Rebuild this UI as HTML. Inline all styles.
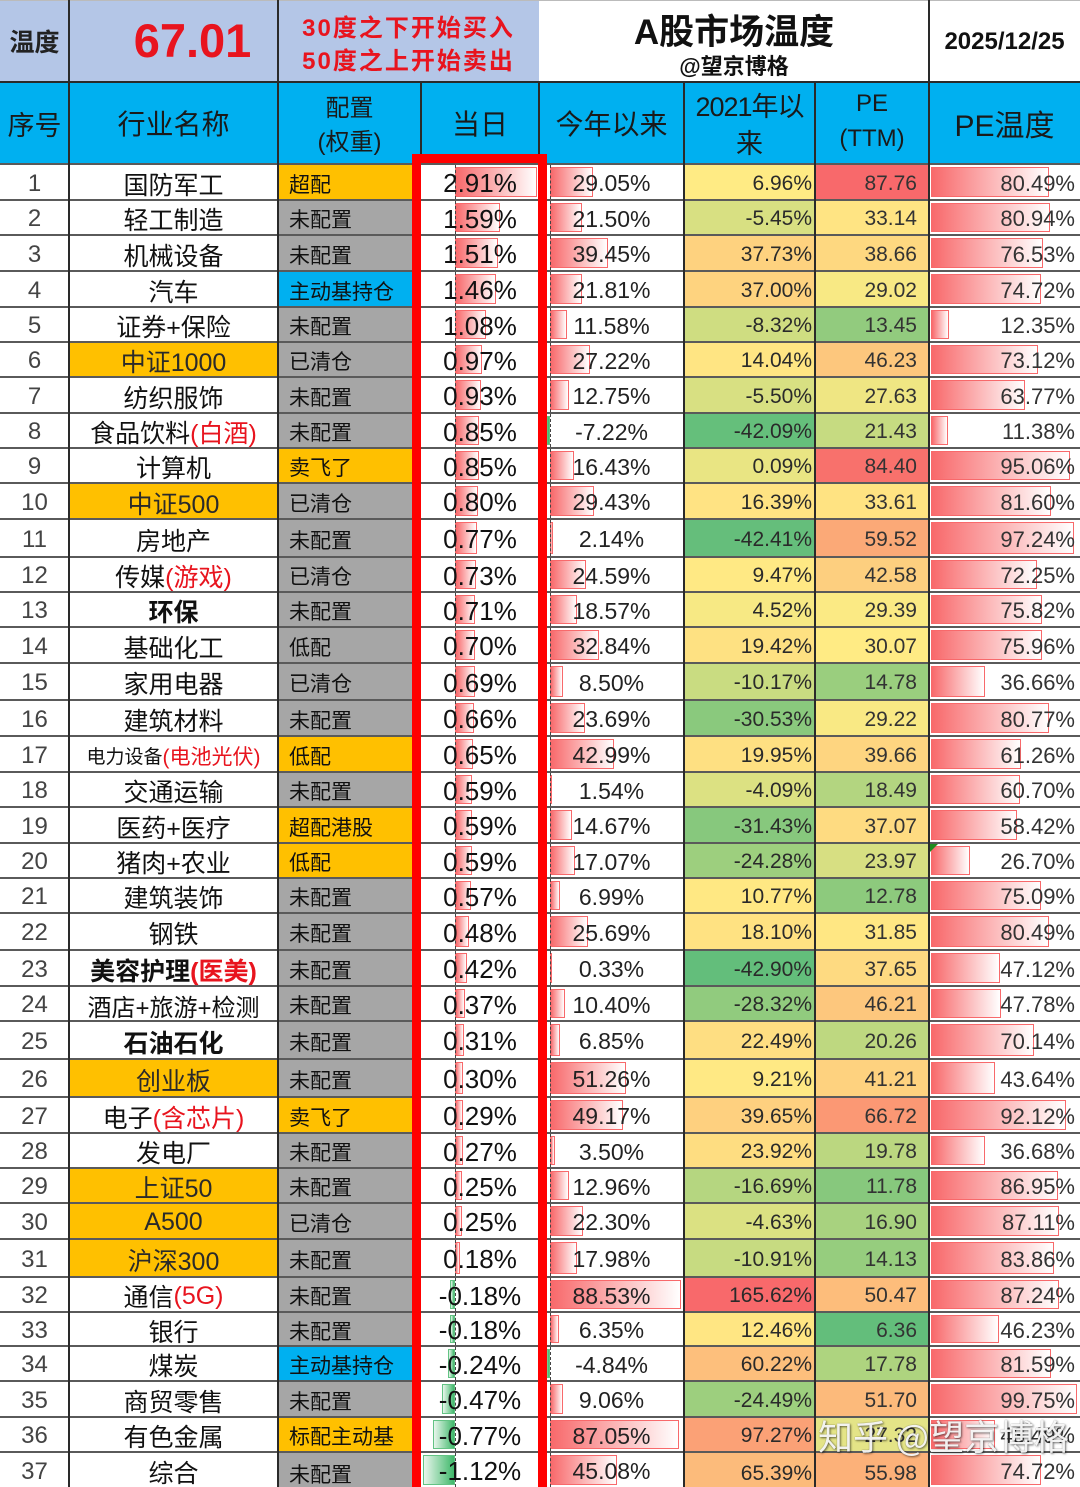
<!DOCTYPE html>
<html><head><meta charset="utf-8"><style>
*{margin:0;padding:0;box-sizing:border-box}
html,body{width:1080px;height:1487px;overflow:hidden;background:#fff}
body{font-family:"Liberation Sans","Noto Sans CJK SC",sans-serif;color:#1a1a1a}
#w{position:relative;width:1080px;height:1487px;overflow:hidden;background:#fff}
.a{position:absolute}
.h{position:absolute;display:flex;align-items:center;justify-content:center;white-space:nowrap}
.r{position:absolute;left:0;width:1080px;border-top:2px solid #5a5a5a}
.c{position:absolute;top:0;bottom:0;display:flex;align-items:center;white-space:nowrap;padding-top:3px}
.c0{left:0;width:69px;justify-content:center;font-size:24px;color:#444}
.c1{left:69px;width:209px;justify-content:center;font-size:25px;color:#111}
.c2{left:278px;width:143px;padding-left:11px;font-size:21px;color:#111;background:#A6A6A6}
.c3{left:421px;width:118px;justify-content:center;font-size:26px;color:#111;overflow:hidden}
.c4{left:539px;width:145px;justify-content:center;font-size:23px;color:#222;overflow:hidden}
.c5{left:684px;width:131px;justify-content:flex-end;padding-right:3px;font-size:21px;color:#2a2a2a}
.c6{left:815px;width:114px;justify-content:flex-end;padding-right:12px;font-size:21px;color:#333}
.c7{left:929px;width:151px;justify-content:flex-end;padding-right:5px;font-size:22px;color:#333}
.og{background:#FFC000}
.bl{background:#00B0F0}
.c1.og{color:#2a2a2a}
.c span{position:relative;z-index:2}
.c3:before,.c4:before{content:"";position:absolute;top:0;bottom:0;border-left:1px dashed #444;z-index:1}
.c3:before{left:34px}
.c4:before{left:11px}
.p,.n{position:absolute;top:2px;bottom:2px}
.p{background:linear-gradient(90deg,#F8696B,#fff);border:1px solid #F8696B}
.n{background:linear-gradient(270deg,#3fb86a,#e8f6ec);border:1px solid #63C384}
.c3 .p{left:34px}.c3 .n{right:84px}
.c4 .p{left:11px}.c4 .n{right:134px}
.c7 .p{left:2px}
.rd{color:#E8141E}
.b{font-weight:bold}
.vl{position:absolute;width:2px;background:#2a2a2a;z-index:3}
</style></head><body><div id="w">

<!-- header row 1 -->
<div class="a" style="left:0;top:0;width:539px;height:81px;background:#B4C6E7"></div>
<div class="h" style="left:0;top:0;width:69px;height:81px;font-size:25px;font-weight:bold;color:#222">温度</div>
<div class="h" style="left:130px;top:0;width:125px;height:81px;font-size:47px;font-weight:bold;color:#E8141E">67.01</div>
<div class="h" style="left:278px;top:8px;width:261px;height:34px;font-size:24px;font-weight:bold;color:#E8141E;letter-spacing:2px">30度之下开始买入</div>
<div class="h" style="left:278px;top:41px;width:261px;height:34px;font-size:24px;font-weight:bold;color:#E8141E;letter-spacing:2px">50度之上开始卖出</div>
<div class="h" style="left:539px;top:7px;width:390px;height:44px;font-size:35px;font-weight:bold;color:#111">A股市场温度</div>
<div class="h" style="left:539px;top:50px;width:390px;height:30px;font-size:22px;font-weight:bold;color:#111">@望京博格</div>
<div class="h" style="left:929px;top:0;width:151px;height:84px;font-size:24px;font-weight:bold;color:#111">2025/12/25</div>

<!-- header row 2 -->
<div class="a" style="left:0;top:81px;width:1080px;height:82px;background:#00B0F0;border-top:2px solid #2a2a2a"></div>
<div class="h" style="left:0;top:83px;width:69px;height:80px;font-size:27px">序号</div>
<div class="h" style="left:69px;top:83px;width:209px;height:80px;font-size:28px">行业名称</div>
<div class="h" style="left:278px;top:88px;width:143px;height:34px;font-size:24px">配置</div>
<div class="h" style="left:278px;top:122px;width:143px;height:34px;font-size:24px">(权重)</div>
<div class="h" style="left:421px;top:83px;width:118px;height:80px;font-size:28px">当日</div>
<div class="h" style="left:539px;top:83px;width:145px;height:80px;font-size:28px">今年以来</div>
<div class="h" style="left:684px;top:85px;width:131px;height:38px;font-size:27px;letter-spacing:-1px">2021年以</div>
<div class="h" style="left:684px;top:122px;width:131px;height:38px;font-size:27px">来</div>
<div class="h" style="left:815px;top:87px;width:114px;height:34px;font-size:24px">PE</div>
<div class="h" style="left:815px;top:122px;width:114px;height:34px;font-size:24px">(TTM)</div>
<div class="h" style="left:929px;top:83px;width:151px;height:80px;font-size:30px">PE温度</div>

<!-- data rows -->
<div class="r" style="top:163px;height:36px"><div class="c c0">1</div><div class="c c1">国防军工</div><div class="c c2 og">超配</div><div class="c c3"><i class="p" style="width:82px"></i><span>2.91%</span></div><div class="c c4"><i class="p" style="width:43px"></i><span>29.05%</span></div><div class="c c5" style="background:#FFEB84">6.96%</div><div class="c c6" style="background:#F8696B">87.76</div><div class="c c7"><i class="p" style="width:118px"></i><span>80.49%</span></div></div>
<div class="r" style="top:199px;height:35px"><div class="c c0">2</div><div class="c c1">轻工制造</div><div class="c c2">未配置</div><div class="c c3"><i class="p" style="width:45px"></i><span>1.59%</span></div><div class="c c4"><i class="p" style="width:32px"></i><span>21.50%</span></div><div class="c c5" style="background:#D8E082">-5.45%</div><div class="c c6" style="background:#FFE483">33.14</div><div class="c c7"><i class="p" style="width:119px"></i><span>80.94%</span></div></div>
<div class="r" style="top:234px;height:36px"><div class="c c0">3</div><div class="c c1">机械设备</div><div class="c c2">未配置</div><div class="c c3"><i class="p" style="width:43px"></i><span>1.51%</span></div><div class="c c4"><i class="p" style="width:58px"></i><span>39.45%</span></div><div class="c c5" style="background:#FED27F">37.73%</div><div class="c c6" style="background:#FED880">38.66</div><div class="c c7"><i class="p" style="width:112px"></i><span>76.53%</span></div></div>
<div class="r" style="top:270px;height:36px"><div class="c c0">4</div><div class="c c1">汽车</div><div class="c c2 bl">主动基持仓</div><div class="c c3"><i class="p" style="width:41px"></i><span>1.46%</span></div><div class="c c4"><i class="p" style="width:32px"></i><span>21.81%</span></div><div class="c c5" style="background:#FED37F">37.00%</div><div class="c c6" style="background:#F8E984">29.02</div><div class="c c7"><i class="p" style="width:110px"></i><span>74.72%</span></div></div>
<div class="r" style="top:306px;height:35px"><div class="c c0">5</div><div class="c c1">证券+保险</div><div class="c c2">未配置</div><div class="c c3"><i class="p" style="width:31px"></i><span>1.08%</span></div><div class="c c4"><i class="p" style="width:17px"></i><span>11.58%</span></div><div class="c c5" style="background:#CFDD81">-8.32%</div><div class="c c6" style="background:#92CB7E">13.45</div><div class="c c7"><i class="p" style="width:18px"></i><span>12.35%</span></div></div>
<div class="r" style="top:341px;height:35px"><div class="c c0">6</div><div class="c c1 og">中证1000</div><div class="c c2">已清仓</div><div class="c c3"><i class="p" style="width:27px"></i><span>0.97%</span></div><div class="c c4"><i class="p" style="width:40px"></i><span>27.22%</span></div><div class="c c5" style="background:#FFE583">14.04%</div><div class="c c6" style="background:#FDC77D">46.23</div><div class="c c7"><i class="p" style="width:107px"></i><span>73.12%</span></div></div>
<div class="r" style="top:376px;height:36px"><div class="c c0">7</div><div class="c c1">纺织服饰</div><div class="c c2">未配置</div><div class="c c3"><i class="p" style="width:26px"></i><span>0.93%</span></div><div class="c c4"><i class="p" style="width:19px"></i><span>12.75%</span></div><div class="c c5" style="background:#D8E082">-5.50%</div><div class="c c6" style="background:#EFE683">27.63</div><div class="c c7"><i class="p" style="width:94px"></i><span>63.77%</span></div></div>
<div class="r" style="top:412px;height:35px"><div class="c c0">8</div><div class="c c1">食品饮料<span class="rd">(白酒)</span></div><div class="c c2">未配置</div><div class="c c3"><i class="p" style="width:24px"></i><span>0.85%</span></div><div class="c c4"><i class="n" style="width:11px"></i><span>-7.22%</span></div><div class="c c5" style="background:#65BF7B">-42.09%</div><div class="c c6" style="background:#C6DB81">21.43</div><div class="c c7"><i class="p" style="width:17px"></i><span>11.38%</span></div></div>
<div class="r" style="top:447px;height:35px"><div class="c c0">9</div><div class="c c1">计算机</div><div class="c c2 og">卖飞了</div><div class="c c3"><i class="p" style="width:24px"></i><span>0.85%</span></div><div class="c c4"><i class="p" style="width:24px"></i><span>16.43%</span></div><div class="c c5" style="background:#E9E583">0.09%</div><div class="c c6" style="background:#F8716C">84.40</div><div class="c c7"><i class="p" style="width:139px"></i><span>95.06%</span></div></div>
<div class="r" style="top:482px;height:36px"><div class="c c0">10</div><div class="c c1 og">中证500</div><div class="c c2">已清仓</div><div class="c c3"><i class="p" style="width:23px"></i><span>0.80%</span></div><div class="c c4"><i class="p" style="width:44px"></i><span>29.43%</span></div><div class="c c5" style="background:#FFE383">16.39%</div><div class="c c6" style="background:#FFE382">33.61</div><div class="c c7"><i class="p" style="width:120px"></i><span>81.60%</span></div></div>
<div class="r" style="top:518px;height:38px"><div class="c c0">11</div><div class="c c1">房地产</div><div class="c c2">未配置</div><div class="c c3"><i class="p" style="width:22px"></i><span>0.77%</span></div><div class="c c4"><i class="p" style="width:3px"></i><span>2.14%</span></div><div class="c c5" style="background:#65BE7B">-42.41%</div><div class="c c6" style="background:#FBA977">59.52</div><div class="c c7"><i class="p" style="width:143px"></i><span>97.24%</span></div></div>
<div class="r" style="top:556px;height:35px"><div class="c c0">12</div><div class="c c1">传媒<span class="rd">(游戏)</span></div><div class="c c2">已清仓</div><div class="c c3"><i class="p" style="width:21px"></i><span>0.73%</span></div><div class="c c4"><i class="p" style="width:36px"></i><span>24.59%</span></div><div class="c c5" style="background:#FFE984">9.47%</div><div class="c c6" style="background:#FDCF7F">42.58</div><div class="c c7"><i class="p" style="width:106px"></i><span>72.25%</span></div></div>
<div class="r" style="top:591px;height:35px"><div class="c c0">13</div><div class="c c1 b">环保</div><div class="c c2">未配置</div><div class="c c3"><i class="p" style="width:20px"></i><span>0.71%</span></div><div class="c c4"><i class="p" style="width:27px"></i><span>18.57%</span></div><div class="c c5" style="background:#F7E984">4.52%</div><div class="c c6" style="background:#FBEA84">29.39</div><div class="c c7"><i class="p" style="width:111px"></i><span>75.82%</span></div></div>
<div class="r" style="top:626px;height:36px"><div class="c c0">14</div><div class="c c1">基础化工</div><div class="c c2">低配</div><div class="c c3"><i class="p" style="width:20px"></i><span>0.70%</span></div><div class="c c4"><i class="p" style="width:49px"></i><span>32.84%</span></div><div class="c c5" style="background:#FEE182">19.42%</div><div class="c c6" style="background:#FFEB84">30.07</div><div class="c c7"><i class="p" style="width:111px"></i><span>75.96%</span></div></div>
<div class="r" style="top:662px;height:37px"><div class="c c0">15</div><div class="c c1">家用电器</div><div class="c c2">已清仓</div><div class="c c3"><i class="p" style="width:20px"></i><span>0.69%</span></div><div class="c c4"><i class="p" style="width:13px"></i><span>8.50%</span></div><div class="c c5" style="background:#C9DC81">-10.17%</div><div class="c c6" style="background:#9ACE7E">14.78</div><div class="c c7"><i class="p" style="width:54px"></i><span>36.66%</span></div></div>
<div class="r" style="top:699px;height:36px"><div class="c c0">16</div><div class="c c1">建筑材料</div><div class="c c2">未配置</div><div class="c c3"><i class="p" style="width:19px"></i><span>0.66%</span></div><div class="c c4"><i class="p" style="width:35px"></i><span>23.69%</span></div><div class="c c5" style="background:#8AC97D">-30.53%</div><div class="c c6" style="background:#F9E984">29.22</div><div class="c c7"><i class="p" style="width:118px"></i><span>80.77%</span></div></div>
<div class="r" style="top:735px;height:36px"><div class="c c0">17</div><div class="c c1"><span style="font-size:19px">电力设备</span><span class="rd" style="font-size:21px">(电池光伏)</span></div><div class="c c2 og">低配</div><div class="c c3"><i class="p" style="width:18px"></i><span>0.65%</span></div><div class="c c4"><i class="p" style="width:64px"></i><span>42.99%</span></div><div class="c c5" style="background:#FEE082">19.95%</div><div class="c c6" style="background:#FED580">39.66</div><div class="c c7"><i class="p" style="width:90px"></i><span>61.26%</span></div></div>
<div class="r" style="top:771px;height:35px"><div class="c c0">18</div><div class="c c1">交通运输</div><div class="c c2">未配置</div><div class="c c3"><i class="p" style="width:17px"></i><span>0.59%</span></div><div class="c c4"><i class="p" style="width:2px"></i><span>1.54%</span></div><div class="c c5" style="background:#DCE182">-4.09%</div><div class="c c6" style="background:#B3D580">18.49</div><div class="c c7"><i class="p" style="width:89px"></i><span>60.70%</span></div></div>
<div class="r" style="top:806px;height:36px"><div class="c c0">19</div><div class="c c1">医药+医疗</div><div class="c c2 og">超配港股</div><div class="c c3"><i class="p" style="width:17px"></i><span>0.59%</span></div><div class="c c4"><i class="p" style="width:22px"></i><span>14.67%</span></div><div class="c c5" style="background:#87C87D">-31.43%</div><div class="c c6" style="background:#FEDB81">37.07</div><div class="c c7"><i class="p" style="width:86px"></i><span>58.42%</span></div></div>
<div class="r" style="top:842px;height:35px"><div class="c c0">20</div><div class="c c1">猪肉+农业</div><div class="c c2 og">低配</div><div class="c c3"><i class="p" style="width:17px"></i><span>0.59%</span></div><div class="c c4"><i class="p" style="width:25px"></i><span>17.07%</span></div><div class="c c5" style="background:#9DCF7E">-24.28%</div><div class="c c6" style="background:#D7DF82">23.97</div><div class="c c7"><i class="p" style="width:39px"></i><span>26.70%</span><i style="position:absolute;left:1px;top:0;width:0;height:0;border-top:8px solid #1E8C1E;border-right:8px solid transparent;z-index:3"></i></div></div>
<div class="r" style="top:877px;height:35px"><div class="c c0">21</div><div class="c c1">建筑装饰</div><div class="c c2">未配置</div><div class="c c3"><i class="p" style="width:16px"></i><span>0.57%</span></div><div class="c c4"><i class="p" style="width:10px"></i><span>6.99%</span></div><div class="c c5" style="background:#FFE883">10.77%</div><div class="c c6" style="background:#8DCA7D">12.78</div><div class="c c7"><i class="p" style="width:110px"></i><span>75.09%</span></div></div>
<div class="r" style="top:912px;height:37px"><div class="c c0">22</div><div class="c c1">钢铁</div><div class="c c2">未配置</div><div class="c c3"><i class="p" style="width:14px"></i><span>0.48%</span></div><div class="c c4"><i class="p" style="width:38px"></i><span>25.69%</span></div><div class="c c5" style="background:#FFE282">18.10%</div><div class="c c6" style="background:#FFE783">31.85</div><div class="c c7"><i class="p" style="width:118px"></i><span>80.49%</span></div></div>
<div class="r" style="top:949px;height:36px"><div class="c c0">23</div><div class="c c1 b">美容护理<span class="rd">(医美)</span></div><div class="c c2">未配置</div><div class="c c3"><i class="p" style="width:12px"></i><span>0.42%</span></div><div class="c c4"><i class="p" style="width:1px"></i><span>0.33%</span></div><div class="c c5" style="background:#63BE7B">-42.90%</div><div class="c c6" style="background:#FEDA81">37.65</div><div class="c c7"><i class="p" style="width:69px"></i><span>47.12%</span></div></div>
<div class="r" style="top:985px;height:35px"><div class="c c0">24</div><div class="c c1" style="font-size:24px">酒店+旅游+检测</div><div class="c c2">未配置</div><div class="c c3"><i class="p" style="width:10px"></i><span>0.37%</span></div><div class="c c4"><i class="p" style="width:15px"></i><span>10.40%</span></div><div class="c c5" style="background:#91CB7E">-28.32%</div><div class="c c6" style="background:#FDC77D">46.21</div><div class="c c7"><i class="p" style="width:70px"></i><span>47.78%</span></div></div>
<div class="r" style="top:1020px;height:38px"><div class="c c0">25</div><div class="c c1 b">石油石化</div><div class="c c2">未配置</div><div class="c c3"><i class="p" style="width:9px"></i><span>0.31%</span></div><div class="c c4"><i class="p" style="width:10px"></i><span>6.85%</span></div><div class="c c5" style="background:#FEDE82">22.49%</div><div class="c c6" style="background:#BED880">20.26</div><div class="c c7"><i class="p" style="width:103px"></i><span>70.14%</span></div></div>
<div class="r" style="top:1058px;height:38px"><div class="c c0">26</div><div class="c c1 og">创业板</div><div class="c c2">未配置</div><div class="c c3"><i class="p" style="width:8px"></i><span>0.30%</span></div><div class="c c4"><i class="p" style="width:76px"></i><span>51.26%</span></div><div class="c c5" style="background:#FFE984">9.21%</div><div class="c c6" style="background:#FED27F">41.21</div><div class="c c7"><i class="p" style="width:64px"></i><span>43.64%</span></div></div>
<div class="r" style="top:1096px;height:36px"><div class="c c0">27</div><div class="c c1">电子<span class="rd">(含芯片)</span></div><div class="c c2 og">卖飞了</div><div class="c c3"><i class="p" style="width:8px"></i><span>0.29%</span></div><div class="c c4"><i class="p" style="width:73px"></i><span>49.17%</span></div><div class="c c5" style="background:#FED07F">39.65%</div><div class="c c6" style="background:#FB9874">66.72</div><div class="c c7"><i class="p" style="width:135px"></i><span>92.12%</span></div></div>
<div class="r" style="top:1132px;height:35px"><div class="c c0">28</div><div class="c c1">发电厂</div><div class="c c2">未配置</div><div class="c c3"><i class="p" style="width:8px"></i><span>0.27%</span></div><div class="c c4"><i class="p" style="width:5px"></i><span>3.50%</span></div><div class="c c5" style="background:#FEDD81">23.92%</div><div class="c c6" style="background:#BBD780">19.78</div><div class="c c7"><i class="p" style="width:54px"></i><span>36.68%</span></div></div>
<div class="r" style="top:1167px;height:35px"><div class="c c0">29</div><div class="c c1 og">上证50</div><div class="c c2">未配置</div><div class="c c3"><i class="p" style="width:7px"></i><span>0.25%</span></div><div class="c c4"><i class="p" style="width:19px"></i><span>12.96%</span></div><div class="c c5" style="background:#B5D680">-16.69%</div><div class="c c6" style="background:#87C87D">11.78</div><div class="c c7"><i class="p" style="width:127px"></i><span>86.95%</span></div></div>
<div class="r" style="top:1202px;height:36px"><div class="c c0">30</div><div class="c c1 og">A500</div><div class="c c2">已清仓</div><div class="c c3"><i class="p" style="width:7px"></i><span>0.25%</span></div><div class="c c4"><i class="p" style="width:33px"></i><span>22.30%</span></div><div class="c c5" style="background:#DBE182">-4.63%</div><div class="c c6" style="background:#A8D27F">16.90</div><div class="c c7"><i class="p" style="width:128px"></i><span>87.11%</span></div></div>
<div class="r" style="top:1238px;height:38px"><div class="c c0">31</div><div class="c c1 og">沪深300</div><div class="c c2">未配置</div><div class="c c3"><i class="p" style="width:5px"></i><span>0.18%</span></div><div class="c c4"><i class="p" style="width:27px"></i><span>17.98%</span></div><div class="c c5" style="background:#C7DB81">-10.91%</div><div class="c c6" style="background:#96CD7E">14.13</div><div class="c c7"><i class="p" style="width:123px"></i><span>83.86%</span></div></div>
<div class="r" style="top:1276px;height:35px"><div class="c c0">32</div><div class="c c1">通信<span class="rd">(5G)</span></div><div class="c c2">未配置</div><div class="c c3"><i class="n" style="width:5px"></i><span>-0.18%</span></div><div class="c c4"><i class="p" style="width:131px"></i><span>88.53%</span></div><div class="c c5" style="background:#F8696B">165.62%</div><div class="c c6" style="background:#FDBD7B">50.47</div><div class="c c7"><i class="p" style="width:128px"></i><span>87.24%</span></div></div>
<div class="r" style="top:1311px;height:34px"><div class="c c0">33</div><div class="c c1">银行</div><div class="c c2">未配置</div><div class="c c3"><i class="n" style="width:5px"></i><span>-0.18%</span></div><div class="c c4"><i class="p" style="width:9px"></i><span>6.35%</span></div><div class="c c5" style="background:#FFE683">12.46%</div><div class="c c6" style="background:#63BE7B">6.36</div><div class="c c7"><i class="p" style="width:68px"></i><span>46.23%</span></div></div>
<div class="r" style="top:1345px;height:35px"><div class="c c0">34</div><div class="c c1">煤炭</div><div class="c c2 bl">主动基持仓</div><div class="c c3"><i class="n" style="width:7px"></i><span>-0.24%</span></div><div class="c c4"><i class="n" style="width:7px"></i><span>-4.84%</span></div><div class="c c5" style="background:#FDBF7C">60.22%</div><div class="c c6" style="background:#AED47F">17.78</div><div class="c c7"><i class="p" style="width:120px"></i><span>81.59%</span></div></div>
<div class="r" style="top:1380px;height:36px"><div class="c c0">35</div><div class="c c1">商贸零售</div><div class="c c2">未配置</div><div class="c c3"><i class="n" style="width:13px"></i><span>-0.47%</span></div><div class="c c4"><i class="p" style="width:13px"></i><span>9.06%</span></div><div class="c c5" style="background:#9DCF7E">-24.49%</div><div class="c c6" style="background:#FCBA7B">51.70</div><div class="c c7"><i class="p" style="width:146px"></i><span>99.75%</span></div></div>
<div class="r" style="top:1416px;height:35px"><div class="c c0">36</div><div class="c c1">有色金属</div><div class="c c2 og">标配主动基</div><div class="c c3"><i class="n" style="width:22px"></i><span>-0.77%</span></div><div class="c c4"><i class="p" style="width:129px"></i><span>87.05%</span></div><div class="c c5" style="background:#FBA176">97.27%</div><div class="c c6" style="background:#E4E487">27.32</div><div class="c c7"><i class="p" style="width:64px"></i><span>43.49%</span></div></div>
<div class="r" style="top:1451px;height:40px"><div class="c c0" style="bottom:4px">37</div><div class="c c1" style="bottom:4px">综合</div><div class="c c2">未配置</div><div class="c c3" style="bottom:4px"><i class="n" style="width:32px"></i><span>-1.12%</span></div><div class="c c4" style="bottom:4px"><i class="p" style="width:67px"></i><span>45.08%</span></div><div class="c c5" style="background:#FCBB7B">65.39%</div><div class="c c6" style="background:#FCB179">55.98</div><div class="c c7" style="bottom:4px"><i class="p" style="width:110px"></i><span>74.72%</span></div></div>

<!-- vertical grid lines -->
<div class="vl" style="left:68px;top:0;height:1487px"></div>
<div class="vl" style="left:277px;top:0;height:1487px"></div>
<div class="vl" style="left:420px;top:81px;height:82px"></div>
<div class="vl" style="left:538px;top:81px;height:82px"></div>
<div class="vl" style="left:683px;top:81px;height:1406px"></div>
<div class="vl" style="left:814px;top:81px;height:1406px"></div>
<div class="vl" style="left:928px;top:0;height:1487px"></div>
<div class="a" style="left:0;top:0;width:1080px;height:1px;background:#bbb"></div>

<!-- red highlight box (bottom edge clipped off page) -->
<div class="a" style="left:412px;top:154px;width:135px;height:1360px;border:9px solid #FF0000;z-index:5"></div>

<!-- watermark -->
<div class="a" style="left:818px;top:1414px;font-family:'Noto Sans CJK SC','WenQuanYi Zen Hei',sans-serif;font-size:35px;line-height:44px;color:rgba(255,255,255,0.92);text-shadow:1px 1px 2px rgba(0,0,0,0.55),0 0 1px rgba(0,0,0,0.4);z-index:10;white-space:nowrap">知乎 @望京博格</div>

</div></body></html>
